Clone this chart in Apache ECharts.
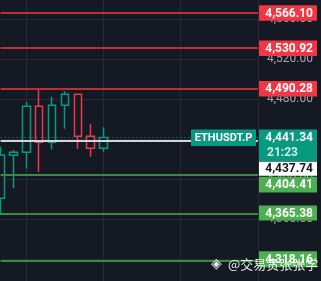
<!DOCTYPE html>
<html><head><meta charset="utf-8">
<script src="https://cdn.jsdelivr.net/npm/echarts@6/dist/echarts.min.js"></script>
<style>html,body{margin:0;padding:0;background:#151924;overflow:hidden}#c{width:321px;height:281px}</style>
</head><body><div id="c"></div><script>
// ---- data ----
const categories = ['19:00','19:15','19:30','19:45','20:00','20:15','20:30','20:45','21:00','21:15','21:30','21:45','22:00','22:15','22:30','22:45','23:00','23:15','23:30','23:45','00:00'];
// [open, close, low, high]
const candles = [
  [4380.6, 4423.9, 4363.9, 4432.2],
  [4423.6, 4426.6, 4390.6, 4428.9],
  [4426.6, 4472.6, 4410.2, 4476.9],
  [4472.6, 4436.6, 4407.2, 4488.9],
  [4436.6, 4473.6, 4429.6, 4481.9],
  [4473.6, 4484.6, 4450.2, 4487.9],
  [4484.6, 4442.6, 4430.2, 4484.6],
  [4442.6, 4430.6, 4422.2, 4454.9],
  [4430.6, 4441.34, 4427.2, 4451.6]
];
const resistanceLevels = [4566.10, 4530.92, 4490.28];
const supportLevels = [4404.41, 4365.38, 4318.16];
const lastPrice = 4441.34;
const markPrice = 4437.74;
const symbolName = 'ETHUSDT.P';
const countdown = '21:23';
const watermark = '@交易贵张张学';
const yMin = 4280, yMax = 4600, yInterval = 40;

// ---- chart ----
const BG = '#151924';
const fmt = v => Number(v).toLocaleString('en-US', {minimumFractionDigits: 2, maximumFractionDigits: 2});
const seriesData = categories.map((c, i) => i < candles.length ? candles[i] : '-');

const chart = echarts.init(document.getElementById('c'), null, {renderer: 'canvas'});
const lineItems = [];
resistanceLevels.forEach(v => lineItems.push({yAxis: v, lineStyle: {color: '#b7303b', width: 2, type: 'solid'}}));
supportLevels.forEach(v => lineItems.push({yAxis: v, lineStyle: {color: '#3b8b3f', width: 2, type: 'solid'}}));
lineItems.push({yAxis: markPrice, lineStyle: {color: '#d1d4dc', width: 2, type: 'solid'}});
lineItems.push({yAxis: lastPrice, lineStyle: {color: '#089981', width: 1, type: [1, 3]}});

chart.setOption({
  animation: false,
  backgroundColor: BG,
  grid: {left: 0.56, right: 63.04, top: -21.1, height: 320, outerBoundsMode: 'none', containLabel: false},
  xAxis: {
    type: 'category', data: categories, boundaryGap: false,
    axisLine: {show: false}, axisTick: {show: false}, axisLabel: {show: false},
    splitLine: {show: true, interval: (i) => i % 6 === 2, lineStyle: {color: '#262a35', width: 1}}
  },
  yAxis: {
    type: 'value', position: 'right', min: yMin, max: yMax, interval: yInterval,
    axisLine: {show: false}, axisTick: {show: false},
    axisLabel: {show: true, margin: 9, color: '#a3a6af', fontSize: 12, fontFamily: 'Roboto', formatter: v => fmt(v)},
    splitLine: {show: true, lineStyle: {color: '#262a35', width: 1}}
  },
  series: [{
    type: 'candlestick', data: seriesData, barWidth: 8, clip: false,
    itemStyle: {color: BG, color0: BG, borderColor: '#089981', borderColor0: '#f23645', borderWidth: 1.5},
    markLine: {silent: true, symbol: ['none', 'none'], label: {show: false}, data: lineItems, animation: false}
  }]
});

// ---- axis label boxes (positions from the y scale) ----
const py = v => chart.convertToPixel({yAxisIndex: 0}, v);
const BX = 259, BW = 58, TX = 313;
const font = 'bold 12px Roboto';
const g = [];
function box(v, dyTop, h, fill, text, textColor, textDy) {
  const y = py(v);
  g.push({type: 'rect', z: 100, shape: {x: BX, y: y + dyTop, width: BW, height: h}, style: {fill: fill}});
  g.push({type: 'text', z: 101, style: {text: text, x: TX, y: y + dyTop + h / 2 + (textDy || 0), align: 'right', verticalAlign: 'middle', font: font, fill: textColor}});
}
resistanceLevels.forEach(v => box(v, -7.5, 15.5, '#f23645', fmt(v), '#ffffff', 0.5));
// last price (two rows)
{
  const y = py(lastPrice);
  g.push({type: 'rect', z: 100, shape: {x: BX, y: y - 8, width: BW, height: 32}, style: {fill: '#089981'}});
  g.push({type: 'text', z: 101, style: {text: fmt(lastPrice), x: TX, y: y, align: 'right', verticalAlign: 'middle', font: font, fill: '#ffffff'}});
  g.push({type: 'text', z: 101, style: {text: countdown, x: 267, y: y + 15, align: 'left', verticalAlign: 'middle', font: font, fill: '#cfe9e3'}});
  g.push({type: 'rect', z: 100, shape: {x: 191, y: y - 8, width: 65, height: 16.5}, style: {fill: '#089981'}});
  g.push({type: 'text', z: 101, style: {text: symbolName, x: 223.5, y: y + 0.5, align: 'center', verticalAlign: 'middle', font: 'bold 11px Roboto', fill: '#ffffff'}});
}
box(markPrice, 20.5, 14, '#ffffff', fmt(markPrice), '#131722', 0.5);
box(supportLevels[0], 2.3, 15.7, '#4caf50', fmt(supportLevels[0]), '#ffffff', 0.5);
box(supportLevels[1], -8, 15, '#4caf50', fmt(supportLevels[1]), '#ffffff', 0.5);
box(supportLevels[2], -9.5, 16, '#4caf50', fmt(supportLevels[2]), '#ffffff', 0.5);
// watermark
g.push({type: 'text', z: 110, style: {text: '◈', x: 211, y: 264, align: 'left', verticalAlign: 'middle', font: '14px "DejaVu Sans"', fill: 'rgba(255,255,255,0.9)', shadowColor: 'rgba(0,0,0,0.8)', shadowBlur: 3}});
g.push({type: 'text', z: 110, style: {text: watermark, x: 228, y: 264, align: 'left', verticalAlign: 'middle', font: '13px "Noto Sans CJK SC"', fill: 'rgba(255,255,255,0.9)', shadowColor: 'rgba(0,0,0,0.8)', shadowBlur: 3}});
chart.setOption({graphic: g});
</script></body></html>
